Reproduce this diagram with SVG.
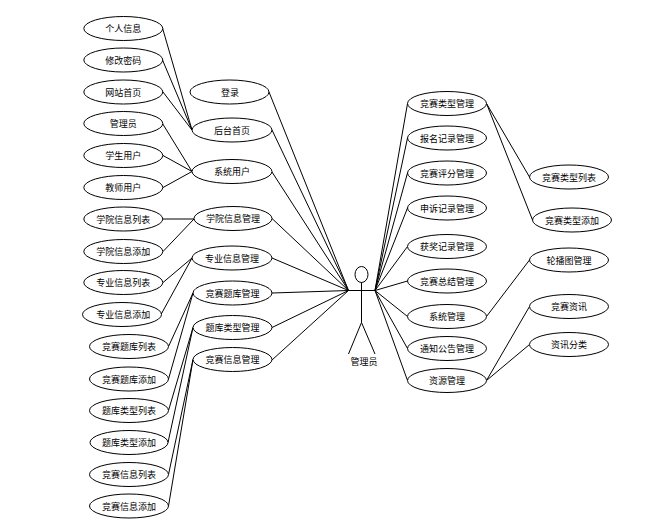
<svg xmlns="http://www.w3.org/2000/svg" width="671" height="527" viewBox="0 0 671 527">
<style>
.u ellipse{fill:#fff;stroke:#000;stroke-width:1}
text{font-family:"Noto Sans CJK SC","Noto Sans",sans-serif;font-size:9px;fill:#000;text-anchor:middle;dominant-baseline:central}
#connectors line,#actor line,#actor ellipse{stroke:#000;stroke-width:1;fill:#fff}
</style>
<rect width="671" height="527" fill="#fff"/>
<g id="connectors">
<line x1="162.5" y1="28" x2="192" y2="130"/>
<line x1="162.5" y1="60" x2="192" y2="130"/>
<line x1="163" y1="92" x2="192" y2="130"/>
<line x1="162.5" y1="123.5" x2="192" y2="171.5"/>
<line x1="163" y1="155.5" x2="192" y2="171.5"/>
<line x1="163" y1="187.5" x2="192" y2="171.5"/>
<line x1="162.5" y1="219" x2="194" y2="219"/>
<line x1="163" y1="251.5" x2="194" y2="219"/>
<line x1="163" y1="282.5" x2="192" y2="258"/>
<line x1="161" y1="314.5" x2="192" y2="258"/>
<line x1="168.5" y1="346.5" x2="193" y2="293"/>
<line x1="168.5" y1="379" x2="193" y2="293"/>
<line x1="168.5" y1="410.5" x2="193" y2="327.5"/>
<line x1="168" y1="442.5" x2="193" y2="327.5"/>
<line x1="168.5" y1="474.5" x2="193" y2="359.5"/>
<line x1="168.5" y1="506" x2="193" y2="359.5"/>
<line x1="269" y1="92" x2="348.5" y2="290.5"/>
<line x1="272" y1="130" x2="348.5" y2="290.5"/>
<line x1="272" y1="172" x2="348.5" y2="290.5"/>
<line x1="272" y1="218.5" x2="348.5" y2="290.5"/>
<line x1="272" y1="258" x2="348.5" y2="290.5"/>
<line x1="272" y1="293" x2="348.5" y2="290.5"/>
<line x1="272" y1="327.5" x2="348.5" y2="290.5"/>
<line x1="272" y1="360" x2="348.5" y2="290.5"/>
<line x1="375" y1="290.5" x2="407.5" y2="103.5"/>
<line x1="375" y1="290.5" x2="407.5" y2="138"/>
<line x1="375" y1="290.5" x2="407.5" y2="173"/>
<line x1="375" y1="290.5" x2="407.5" y2="208"/>
<line x1="375" y1="290.5" x2="407.5" y2="246.5"/>
<line x1="375" y1="290.5" x2="407.5" y2="281"/>
<line x1="375" y1="290.5" x2="407.5" y2="316.5"/>
<line x1="375" y1="290.5" x2="407.5" y2="348.5"/>
<line x1="375" y1="290.5" x2="407.5" y2="380.5"/>
<line x1="486.5" y1="103.5" x2="529.5" y2="177"/>
<line x1="486.5" y1="103.5" x2="532.5" y2="220"/>
<line x1="486.5" y1="316.5" x2="529.5" y2="260"/>
<line x1="486.5" y1="380.5" x2="529.5" y2="306.5"/>
<line x1="486.5" y1="380.5" x2="529.5" y2="344.5"/>
</g>
<g id="actor">
<ellipse cx="361.5" cy="274.5" rx="6.5" ry="8"/>
<line x1="361.5" y1="282.5" x2="361.5" y2="322.5"/>
<line x1="348.5" y1="290.5" x2="375" y2="290.5"/>
<line x1="361.5" y1="322.5" x2="348.5" y2="354"/>
<line x1="361.5" y1="322.5" x2="375" y2="354"/>
<text x="364" y="361.5">管理员</text>
</g>
<g id="n1" class="u"><ellipse cx="123.3" cy="28.5" rx="39.5" ry="12"/><text x="123.3" y="28.5">个人信息</text></g>
<g id="n2" class="u"><ellipse cx="123.3" cy="60" rx="39.5" ry="12"/><text x="123.3" y="60">修改密码</text></g>
<g id="n3" class="u"><ellipse cx="123.3" cy="92" rx="39.5" ry="12"/><text x="123.3" y="92">网站首页</text></g>
<g id="n4" class="u"><ellipse cx="123.3" cy="123.5" rx="39.5" ry="12"/><text x="123.3" y="123.5">管理员</text></g>
<g id="n5" class="u"><ellipse cx="123.3" cy="155.5" rx="39.5" ry="12"/><text x="123.3" y="155.5">学生用户</text></g>
<g id="n6" class="u"><ellipse cx="123.3" cy="187.5" rx="39.5" ry="12"/><text x="123.3" y="187.5">教师用户</text></g>
<g id="n7" class="u"><ellipse cx="123.3" cy="219" rx="39.5" ry="12"/><text x="123.3" y="219">学院信息列表</text></g>
<g id="n8" class="u"><ellipse cx="123.3" cy="251.5" rx="39.5" ry="12"/><text x="123.3" y="251.5">学院信息添加</text></g>
<g id="n9" class="u"><ellipse cx="123.3" cy="282.5" rx="39.5" ry="12"/><text x="123.3" y="282.5">专业信息列表</text></g>
<g id="n10" class="u"><ellipse cx="122" cy="314.5" rx="39.5" ry="12"/><text x="123.3" y="314.5">专业信息添加</text></g>
<g id="n11" class="u"><ellipse cx="129" cy="346.5" rx="39.5" ry="12"/><text x="129" y="346.5">竞赛题库列表</text></g>
<g id="n12" class="u"><ellipse cx="129" cy="379" rx="39.5" ry="12"/><text x="129" y="379">竞赛题库添加</text></g>
<g id="n13" class="u"><ellipse cx="129" cy="410.5" rx="39.5" ry="12"/><text x="129" y="410.5">题库类型列表</text></g>
<g id="n14" class="u"><ellipse cx="129" cy="442.5" rx="39" ry="12"/><text x="129" y="442.5">题库类型添加</text></g>
<g id="n15" class="u"><ellipse cx="129" cy="474.5" rx="39.5" ry="12"/><text x="129" y="474.5">竞赛信息列表</text></g>
<g id="n16" class="u"><ellipse cx="129" cy="506" rx="39.5" ry="12"/><text x="129" y="506">竞赛信息添加</text></g>
<g id="m1" class="u"><ellipse cx="229.5" cy="92" rx="39.5" ry="12"/><text x="230" y="92">登录</text></g>
<g id="m2" class="u"><ellipse cx="232" cy="130" rx="40" ry="12"/><text x="232" y="130">后台首页</text></g>
<g id="m3" class="u"><ellipse cx="232" cy="171.5" rx="40" ry="12"/><text x="232" y="171.5">系统用户</text></g>
<g id="m4" class="u"><ellipse cx="233" cy="218.5" rx="39" ry="12"/><text x="233" y="218.5">学院信息管理</text></g>
<g id="m5" class="u"><ellipse cx="232" cy="258" rx="40" ry="12"/><text x="232" y="258">专业信息管理</text></g>
<g id="m6" class="u"><ellipse cx="232.500" cy="293" rx="39.5" ry="12"/><text x="232.500" y="293">竞赛题库管理</text></g>
<g id="m7" class="u"><ellipse cx="232.500" cy="327.5" rx="39.5" ry="12"/><text x="232.500" y="327.5">题库类型管理</text></g>
<g id="m8" class="u"><ellipse cx="232.500" cy="359.5" rx="39.5" ry="12"/><text x="232.500" y="359.5">竞赛信息管理</text></g>
<g id="r1" class="u"><ellipse cx="447" cy="103.500" rx="39.5" ry="12"/><text x="447" y="103.500">竞赛类型管理</text></g>
<g id="r2" class="u"><ellipse cx="447" cy="138" rx="39.5" ry="12"/><text x="447" y="138">报名记录管理</text></g>
<g id="r3" class="u"><ellipse cx="447" cy="173" rx="39.5" ry="12"/><text x="447" y="173">竞赛评分管理</text></g>
<g id="r4" class="u"><ellipse cx="447" cy="208" rx="39.5" ry="12"/><text x="447" y="208">申诉记录管理</text></g>
<g id="r5" class="u"><ellipse cx="447" cy="246.5" rx="39.5" ry="12"/><text x="447" y="246.5">获奖记录管理</text></g>
<g id="r6" class="u"><ellipse cx="447" cy="281" rx="39.5" ry="12"/><text x="447" y="281">竞赛总结管理</text></g>
<g id="r7" class="u"><ellipse cx="447" cy="316.5" rx="39.5" ry="12"/><text x="447" y="316.5">系统管理</text></g>
<g id="r8" class="u"><ellipse cx="447" cy="348.5" rx="39.5" ry="12"/><text x="447" y="348.5">通知公告管理</text></g>
<g id="r9" class="u"><ellipse cx="447" cy="380.5" rx="39.5" ry="12"/><text x="447" y="380.5">资源管理</text></g>
<g id="f1" class="u"><ellipse cx="569" cy="177" rx="39.5" ry="12"/><text x="569" y="177">竞赛类型列表</text></g>
<g id="f2" class="u"><ellipse cx="572" cy="220" rx="39.5" ry="12"/><text x="572" y="220">竞赛类型添加</text></g>
<g id="f3" class="u"><ellipse cx="569" cy="260" rx="39.5" ry="12"/><text x="569" y="260">轮播图管理</text></g>
<g id="f4" class="u"><ellipse cx="569" cy="306.500" rx="39.5" ry="12"/><text x="569" y="306.500">竞赛资讯</text></g>
<g id="f5" class="u"><ellipse cx="569" cy="344.500" rx="39.5" ry="12"/><text x="569" y="344.500">资讯分类</text></g>
</svg>
